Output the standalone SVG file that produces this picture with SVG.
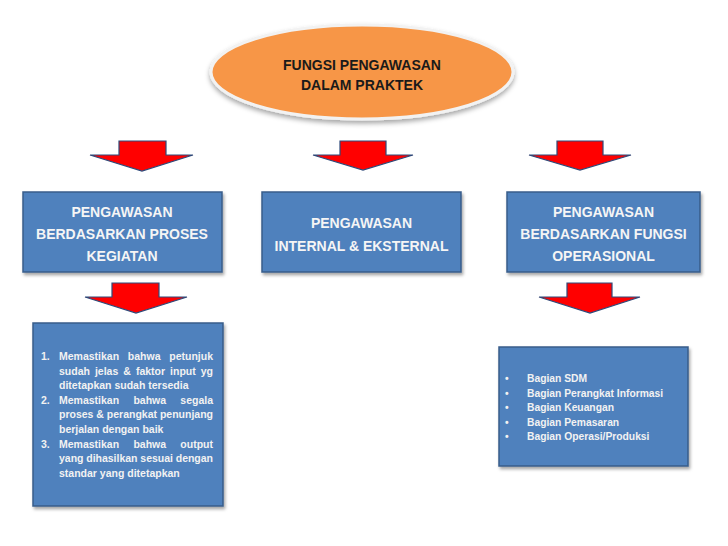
<svg xmlns="http://www.w3.org/2000/svg" width="728" height="546" viewBox="0 0 728 546">
<defs>
<filter id="sh" x="-10%" y="-10%" width="120%" height="130%">
<feDropShadow dx="1.5" dy="2.5" stdDeviation="1.8" flood-color="#000" flood-opacity="0.35"/>
</filter>
<filter id="esh" x="-10%" y="-20%" width="120%" height="150%">
<feDropShadow dx="0" dy="3" stdDeviation="2.5" flood-color="#000" flood-opacity="0.35"/>
</filter>
</defs>
<style>
.box{fill:#4F81BD;stroke:#385D8A;stroke-width:1.5;filter:url(#sh)}
.arr{fill:#FF0000;stroke:#2E4A7A;stroke-width:1.2;stroke-linejoin:miter}
.tt{font-family:"Liberation Sans",Arial,sans-serif;font-weight:bold;font-size:14px;fill:#F5F5F5;text-anchor:middle}
.et{font-family:"Liberation Sans",Arial,sans-serif;font-weight:bold;font-size:14px;fill:#1A1A1A;text-anchor:middle}
.st{font-family:"Liberation Sans",Arial,sans-serif;font-weight:bold;font-size:10.5px;fill:#F2F2F2}
.bt{font-family:"Liberation Sans",Arial,sans-serif;font-weight:bold;font-size:10.3px;fill:#F2F2F2}
</style>
<rect width="728" height="546" fill="#FFFFFF"/>

<g id="connectors">
<polygon class="arr" points="119,141 166,141 166,155 193,155 142,171 90,155 119,155"/>
<polygon class="arr" points="340,141 386,141 386,155 413,155 363,170 313,155 340,155"/>
<polygon class="arr" points="557,141 603,141 603,155 631,155 580,170 529,155 557,155"/>
<polygon class="arr" points="112,283 159,283 159,297 187,297 136,313 85,297 112,297"/>
<polygon class="arr" points="567,283 612,283 612,297 640,297 590,313 539,297 567,297"/>
</g>

<g id="main">
<ellipse cx="362" cy="72" rx="151" ry="47" fill="#F79646" stroke="#F2F2F2" stroke-width="3" filter="url(#esh)"/>
<text class="et" x="362" y="70">FUNGSI PENGAWASAN</text>
<text class="et" x="362" y="90">DALAM PRAKTEK</text>
</g>

<g id="proses">
<rect class="box" x="23" y="192" width="199" height="80"/>
<text class="tt" x="122" y="217">PENGAWASAN</text>
<text class="tt" x="122" y="239">BERDASARKAN PROSES</text>
<text class="tt" x="122" y="261">KEGIATAN</text>
</g>

<g id="internal">
<rect class="box" x="262" y="192" width="199" height="80"/>
<text class="tt" x="361.5" y="228">PENGAWASAN</text>
<text class="tt" x="361.5" y="251">INTERNAL &amp; EKSTERNAL</text>
</g>

<g id="fungsi">
<rect class="box" x="507" y="192" width="193" height="80"/>
<text class="tt" x="603.5" y="217">PENGAWASAN</text>
<text class="tt" x="603.5" y="239">BERDASARKAN FUNGSI</text>
<text class="tt" x="603.5" y="261">OPERASIONAL</text>
</g>

<g id="proses-detail">
<rect class="box" x="33" y="323" width="190" height="183"/>
<text class="st" x="41" y="360">1.</text>
<text class="st" x="59" y="360">Memastikan</text>
<text class="st" x="127.8" y="360">bahwa</text>
<text class="st" x="213" y="360" text-anchor="end">petunjuk</text>
<text class="st" x="59" y="375">sudah</text>
<text class="st" x="94.9" y="375">jelas</text>
<text class="st" x="123.3" y="375">&amp;</text>
<text class="st" x="135.9" y="375">faktor</text>
<text class="st" x="170.1" y="375">input</text>
<text class="st" x="213" y="375" text-anchor="end">yg</text>
<text class="st" x="59" y="389">ditetapkan sudah tersedia</text>
<text class="st" x="41" y="404">2.</text>
<text class="st" x="59" y="404">Memastikan</text>
<text class="st" x="133.4" y="404">bahwa</text>
<text class="st" x="213" y="404" text-anchor="end">segala</text>
<text class="st" x="59" y="418" textLength="154" lengthAdjust="spacing">proses &amp; perangkat penunjang</text>
<text class="st" x="59" y="433">berjalan dengan baik</text>
<text class="st" x="41" y="448">3.</text>
<text class="st" x="59" y="448">Memastikan</text>
<text class="st" x="133.4" y="448">bahwa</text>
<text class="st" x="213" y="448" text-anchor="end">output</text>
<text class="st" x="59" y="462" textLength="154" lengthAdjust="spacing">yang dihasilkan sesuai dengan</text>
<text class="st" x="59" y="477">standar yang ditetapkan</text>
</g>

<g id="fungsi-detail">
<rect class="box" x="499" y="347" width="189" height="119"/>
<text class="bt" x="505" y="382">•</text>
<text class="bt" x="527" y="382">Bagian SDM</text>
<text class="bt" x="505" y="397">•</text>
<text class="bt" x="527" y="397">Bagian Perangkat Informasi</text>
<text class="bt" x="505" y="411">•</text>
<text class="bt" x="527" y="411">Bagian Keuangan</text>
<text class="bt" x="505" y="426">•</text>
<text class="bt" x="527" y="426">Bagian Pemasaran</text>
<text class="bt" x="505" y="440">•</text>
<text class="bt" x="527" y="440">Bagian Operasi/Produksi</text>
</g>
</svg>
